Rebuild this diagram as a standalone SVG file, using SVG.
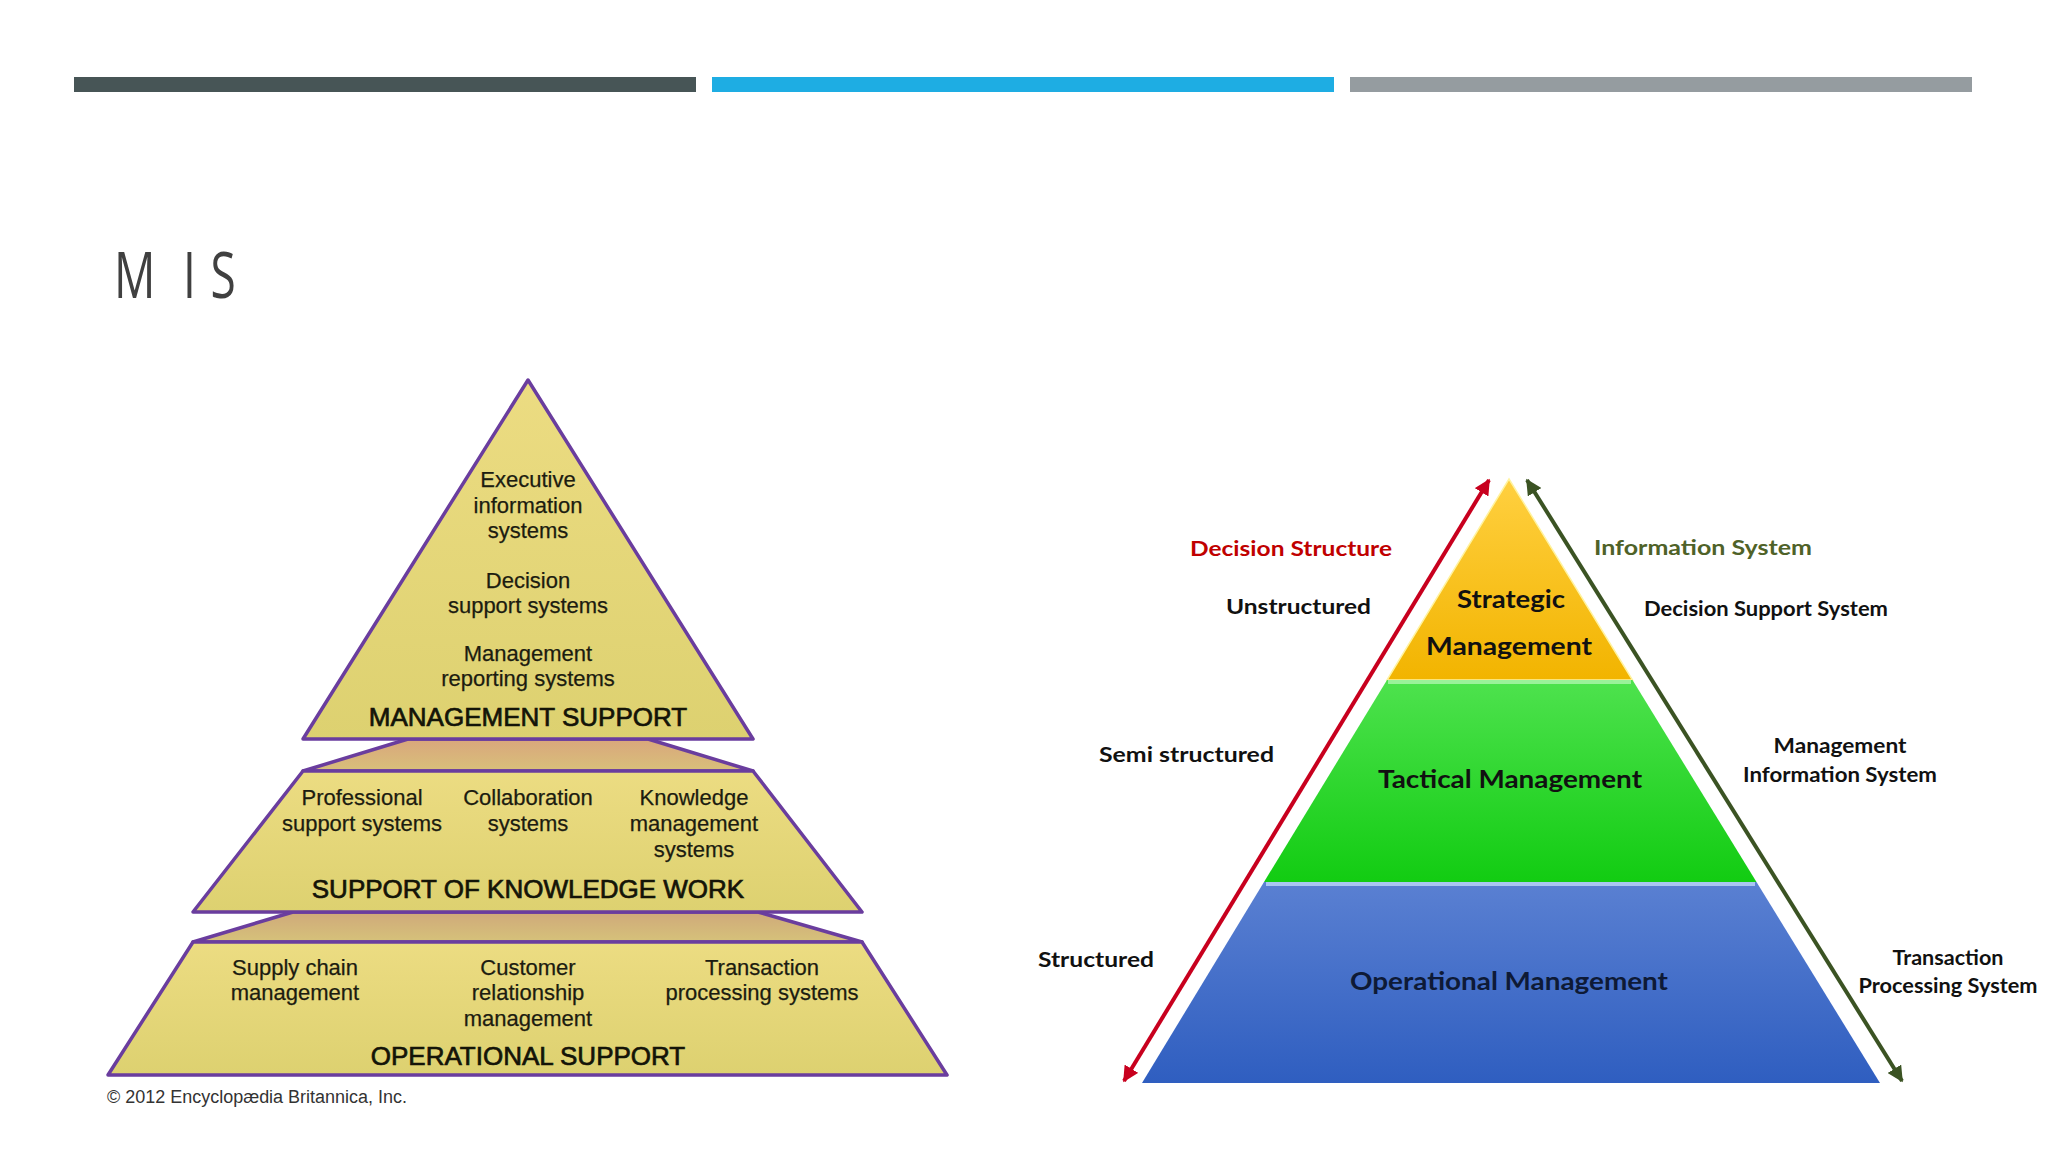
<svg xmlns="http://www.w3.org/2000/svg" width="2048" height="1152" viewBox="0 0 2048 1152">
<defs>
<style>
.lp{fill:url(#yel);stroke:#6a3d9e;stroke-width:3.5;stroke-linejoin:round}
.lc{stroke:#6a3d9e;stroke-width:3.5;stroke-linejoin:round}
.lt{font-family:"Liberation Sans",Arial,sans-serif;font-size:22px;fill:#1c1c10;text-anchor:middle;stroke:#1c1c10;stroke-width:0.25}
.lh{font-family:"Liberation Sans",Arial,sans-serif;font-size:26px;fill:#141408;text-anchor:middle;stroke:#141408;stroke-width:0.7}
.rt{font-family:Lato,"Open Sans",sans-serif;font-weight:700;font-size:21px;fill:#111}
.rb{font-family:Lato,"Open Sans",sans-serif;font-weight:700;font-size:24px;fill:#111}
</style>
<linearGradient id="yel" x1="0" y1="0" x2="0" y2="1">
<stop offset="0" stop-color="#ecdc82"/>
<stop offset="1" stop-color="#ddd170"/>
</linearGradient>
<linearGradient id="tan1" x1="0" y1="0" x2="0" y2="1">
<stop offset="0" stop-color="#d9a67c"/>
<stop offset="1" stop-color="#d8c07a"/>
</linearGradient>
<linearGradient id="tan2" x1="0" y1="0" x2="0" y2="1">
<stop offset="0" stop-color="#cfa97a"/>
<stop offset="1" stop-color="#d6c27a"/>
</linearGradient>
<linearGradient id="gold" x1="0" y1="0" x2="0" y2="1">
<stop offset="0" stop-color="#ffd040"/>
<stop offset="1" stop-color="#f2b400"/>
</linearGradient>
<linearGradient id="grn" x1="0" y1="0" x2="0" y2="1">
<stop offset="0" stop-color="#4ee24e"/>
<stop offset="1" stop-color="#12cc12"/>
</linearGradient>
<linearGradient id="blu" x1="0" y1="0" x2="0" y2="1">
<stop offset="0" stop-color="#5a80d2"/>
<stop offset="1" stop-color="#2f5ec0"/>
</linearGradient>
<marker id="ahR" viewBox="0 0 10 10" refX="9" refY="5" markerWidth="4" markerHeight="4" orient="auto-start-reverse" markerUnits="strokeWidth">
<path d="M0,0 L10,5 L0,10 z" fill="#c8001e"/>
</marker>
<marker id="ahG" viewBox="0 0 10 10" refX="9" refY="5" markerWidth="4" markerHeight="4" orient="auto-start-reverse" markerUnits="strokeWidth">
<path d="M0,0 L10,5 L0,10 z" fill="#3b5323"/>
</marker>
</defs>
<rect width="2048" height="1152" fill="#ffffff"/>

<g id="header">
<rect x="74" y="77" width="622" height="15" fill="#475556"/>
<rect x="712" y="77" width="622" height="15" fill="#1eade3"/>
<rect x="1350" y="77" width="622" height="15" fill="#959ca0"/>
<text transform="translate(114,298) scale(0.72,1)" font-family="'Open Sans',Lato,sans-serif" font-weight="400" font-size="64" fill="#404040"><tspan x="0">M</tspan><tspan x="96">I</tspan><tspan x="134">S</tspan></text>
</g>

<g id="left-pyramid">
<polygon points="408,739 648,739 753,771 303,771" fill="url(#tan1)" class="lc"/>
<polygon points="293,912 758,912 862,942 193,942" fill="url(#tan2)" class="lc"/>
<g id="management-support">
<polygon class="lp" points="528,380 753,739 303,739"/>
<text class="lt" x="528" y="487">Executive</text>
<text class="lt" x="528" y="513">information</text>
<text class="lt" x="528" y="538">systems</text>
<text class="lt" x="528" y="588">Decision</text>
<text class="lt" x="528" y="613">support systems</text>
<text class="lt" x="528" y="661">Management</text>
<text class="lt" x="528" y="686">reporting systems</text>
<text class="lh" x="528" y="726">MANAGEMENT SUPPORT</text>
</g>
<g id="knowledge-work">
<polygon class="lp" points="303,771 753,771 862,912 193,912"/>
<text class="lt" x="362" y="805">Professional</text>
<text class="lt" x="362" y="831">support systems</text>
<text class="lt" x="528" y="805">Collaboration</text>
<text class="lt" x="528" y="831">systems</text>
<text class="lt" x="694" y="805">Knowledge</text>
<text class="lt" x="694" y="831">management</text>
<text class="lt" x="694" y="857">systems</text>
<text class="lh" x="528" y="898">SUPPORT OF KNOWLEDGE WORK</text>
</g>
<g id="operational-support">
<polygon class="lp" points="193,942 862,942 947,1075 108,1075"/>
<text class="lt" x="295" y="975">Supply chain</text>
<text class="lt" x="295" y="1000">management</text>
<text class="lt" x="528" y="975">Customer</text>
<text class="lt" x="528" y="1000">relationship</text>
<text class="lt" x="528" y="1026">management</text>
<text class="lt" x="762" y="975">Transaction</text>
<text class="lt" x="762" y="1000">processing systems</text>
<text class="lh" x="528" y="1065">OPERATIONAL SUPPORT</text>
</g>
<text x="107" y="1103" font-family="'Liberation Sans',Arial,sans-serif" font-size="18" fill="#333" textLength="300" lengthAdjust="spacingAndGlyphs">© 2012 Encyclopædia Britannica, Inc.</text>
</g>

<g id="right-pyramid">
<g id="strategic">
<polygon points="1509,479 1632.5,680 1387,680" fill="url(#gold)" stroke="#fff3a0" stroke-width="1.5"/>
<text class="rb" x="1511" y="608" text-anchor="middle" textLength="108" lengthAdjust="spacingAndGlyphs">Strategic</text>
<text class="rb" x="1509" y="655" text-anchor="middle" textLength="166" lengthAdjust="spacingAndGlyphs">Management</text>
</g>
<g id="tactical">
<polygon points="1387,680 1632.5,680 1756.5,882 1264,882" fill="url(#grn)"/>
<line x1="1388" y1="682" x2="1631" y2="682" stroke="#9af29a" stroke-width="4"/>
<text class="rb" x="1378" y="788" textLength="264" lengthAdjust="spacingAndGlyphs">Tactical Management</text>
</g>
<g id="operational">
<polygon points="1264,882 1756.5,882 1880,1083 1142,1083" fill="url(#blu)"/>
<line x1="1266" y1="884" x2="1755" y2="884" stroke="#a9c6f2" stroke-width="4"/>
<text class="rb" x="1350" y="990" textLength="318" lengthAdjust="spacingAndGlyphs" style="fill:#0e1a36">Operational Management</text>
</g>
</g>

<g id="connectors">
<line x1="1124" y1="1081" x2="1489" y2="480" stroke="#c8001e" stroke-width="4" marker-start="url(#ahR)" marker-end="url(#ahR)"/>
<line x1="1527" y1="480" x2="1902" y2="1081" stroke="#3b5323" stroke-width="4" marker-start="url(#ahG)" marker-end="url(#ahG)"/>
</g>

<g id="labels">
<text class="rt" x="1190" y="556" style="fill:#c00000" textLength="202" lengthAdjust="spacingAndGlyphs">Decision Structure</text>
<text class="rt" x="1594" y="555" style="fill:#4f6228" textLength="218" lengthAdjust="spacingAndGlyphs">Information System</text>
<text class="rt" x="1226" y="614" textLength="145" lengthAdjust="spacingAndGlyphs">Unstructured</text>
<text class="rt" x="1644" y="616" textLength="244" lengthAdjust="spacingAndGlyphs">Decision Support System</text>
<text class="rt" x="1099" y="762" textLength="175" lengthAdjust="spacingAndGlyphs">Semi structured</text>
<text class="rt" x="1840" y="753" text-anchor="middle" textLength="133" lengthAdjust="spacingAndGlyphs">Management</text>
<text class="rt" x="1840" y="782" text-anchor="middle" textLength="194" lengthAdjust="spacingAndGlyphs">Information System</text>
<text class="rt" x="1038" y="967" textLength="116" lengthAdjust="spacingAndGlyphs">Structured</text>
<text class="rt" x="1948" y="965" text-anchor="middle" textLength="111" lengthAdjust="spacingAndGlyphs">Transaction</text>
<text class="rt" x="1948" y="993" text-anchor="middle" textLength="179" lengthAdjust="spacingAndGlyphs">Processing System</text>
</g>
</svg>
